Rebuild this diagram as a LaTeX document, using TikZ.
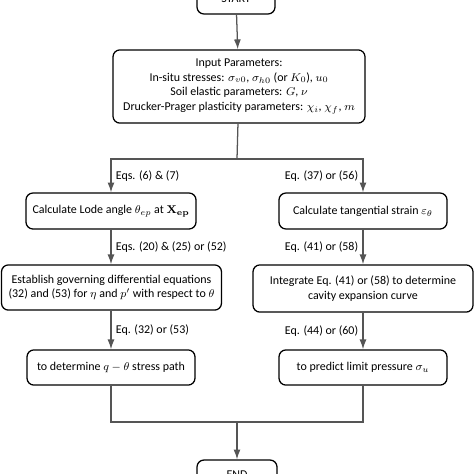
\documentclass[tikz,border=0pt]{standalone}
\usepackage[no-math]{fontspec}
\setmainfont{Carlito}
\usepackage{xcolor}
\definecolor{linegray}{HTML}{555555}
\usepackage{tikz}
\usetikzlibrary{arrows.meta, positioning, calc}

\tikzset{
  box/.style={draw=black, line width=0.9pt, rounded corners=5pt, align=center,
    font=\fontsize{8.5}{10.4}\selectfont, inner sep=2pt},
  flow/.style={draw=linegray, line width=0.9pt},
  flowarrow/.style={flow, -{Latex[length=7pt, width=5pt]}},
  eqlabel/.style={font=\fontsize{8.5}{10.4}\selectfont, inner sep=3pt}
}

\begin{document}
\begin{tikzpicture}[x=0.025cm, y=-0.025cm]
  \useasboundingbox (0,0) rectangle (474,474);

  % --- top ---
  \node[box, minimum width=1.95cm, minimum height=0.75cm] (start) at (236,-1) {START};
  \node[box, minimum width=6.3cm, minimum height=1.83cm] (input) at (239,86.5)
    {Input Parameters:\\
     In-situ stresses: $\sigma_{v0}$, $\sigma_{h0}$ (or $K_0$), $u_0$\\
     Soil elastic parameters: $G$, $\nu$\\
     Drucker-Prager plasticity parameters: $\chi_i$, $\chi_f$, $m$};
  \coordinate (split) at (237,159);

  % --- left column ---
  \node[box, minimum width=4.25cm, minimum height=0.9cm] (lode) at (111,211)
    {Calculate Lode angle $\theta_{ep}$ at $\mathbf{X}_{\mathbf{ep}}$};
  \node[box, minimum width=5.5cm, minimum height=1.13cm] (govern) at (111.5,287.5)
    {Establish governing differential equations\\
     (32) and (53) for $\eta$ and $p'$ with respect to $\theta$};
  \node[box, minimum width=4.2cm, minimum height=0.88cm] (qpath) at (111,367.5)
    {to determine $q-\theta$ stress path};

  % --- right column ---
  \node[box, minimum width=4.2cm, minimum height=0.9cm] (strain) at (363,211)
    {Calculate tangential strain $\varepsilon_\theta$};
  \node[box, minimum width=5.5cm, minimum height=1.18cm] (integ) at (363,288.5)
    {Integrate Eq. (41) or (58) to determine\\ cavity expansion curve};
  \node[box, minimum width=4.2cm, minimum height=0.88cm] (limit) at (363,367.5)
    {to predict limit pressure $\sigma_u$};

  % --- bottom ---
  \coordinate (join) at (237,422);
  \node[box, minimum width=2cm, minimum height=0.75cm] (end) at (237,475) {END};

  % connectors
  \draw[flowarrow] (start) -- (input);
  \draw[flow] (input) -- (split);
  \draw[flowarrow] (split) -| node[pos=0.75, right, eqlabel] {Eqs. (6) \& (7)} (lode);
  \draw[flowarrow] (split) -| node[pos=0.75, left, eqlabel] {Eq. (37) or (56)} (strain);
  \draw[flowarrow] (lode) -- node[right, eqlabel] {Eqs. (20) \& (25) or (52)} (lode |- govern.north);
  \draw[flowarrow] (strain) -- node[left, eqlabel] {Eq. (41) or (58)} (strain |- integ.north);
  \draw[flowarrow] (lode |- govern.south) -- node[right, eqlabel] {Eq. (32) or (53)} (qpath);
  \draw[flowarrow] (strain |- integ.south) -- node[left, eqlabel] {Eq. (44) or (60)} (limit);
  \draw[flow] (qpath) |- (join);
  \draw[flow] (limit) |- (join);
  \draw[flowarrow] (join) -- (end);
\end{tikzpicture}
\end{document}
